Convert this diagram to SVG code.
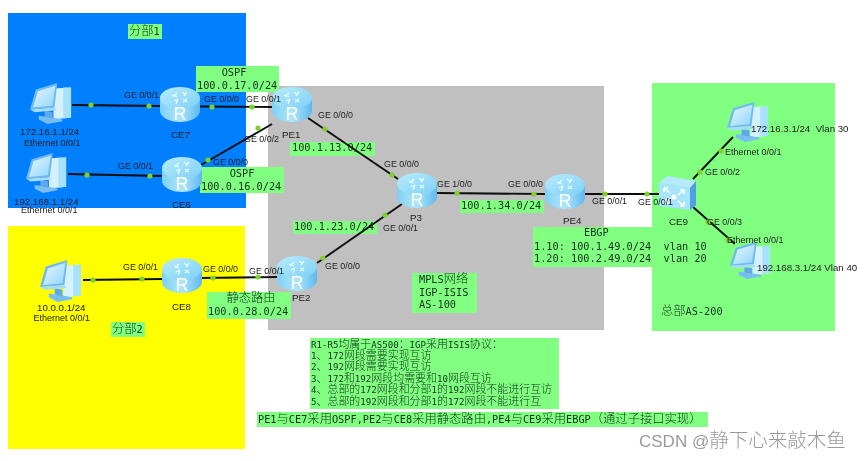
<svg xmlns="http://www.w3.org/2000/svg" xmlns:xlink="http://www.w3.org/1999/xlink" width="865" height="461" viewBox="0 0 865 461">
<style>
svg>g{filter:url(#soft)}
text{font-family:"Liberation Sans",Arial,sans-serif;fill:#1c1c1c}
.ge{font-size:8.9px}
.ip{font-size:9.7px}
.eth{font-size:9px}
.nm{font-size:9.8px}
.m{font-family:"DejaVu Sans Mono","Liberation Mono","Noto Sans CJK SC",monospace;font-size:10.25px;fill:#10301a}
.r{font-family:"DejaVu Sans Mono","Liberation Mono","Noto Sans CJK SC",monospace;font-size:9.1px;fill:#10301a}
.c{font-family:"Noto Sans CJK SC",sans-serif;font-weight:300}
.r .c{font-size:10.96px}
.m .c{font-size:12.3px}
.g{fill:#80ff80}
.ln{stroke:#0a0a0a;stroke-width:1.9;fill:none}
.dot{fill:#7fd12e}
.wm{font-size:17px;fill:#9a9a9a}
</style>
<defs>
<filter id="soft" x="0" y="0" width="100%" height="100%" filterUnits="objectBoundingBox"><feGaussianBlur stdDeviation="0.35"/></filter>
<linearGradient id="rb" x1="0" x2="1" y1="0" y2="0"><stop offset="0" stop-color="#7fd0f5"/><stop offset=".5" stop-color="#aee6fb"/><stop offset="1" stop-color="#5fb8ee"/></linearGradient>
<linearGradient id="rt" x1="0" x2="1" y1="0" y2="1"><stop offset="0" stop-color="#b8ecfc"/><stop offset="1" stop-color="#7dd0f6"/></linearGradient>
<linearGradient id="scr" x1="0" x2="1" y1="0" y2="1"><stop offset="0" stop-color="#e8f8ff"/><stop offset="1" stop-color="#8fd6fb"/></linearGradient>
<symbol id="router" viewBox="0 0 40 35" overflow="visible">
<path d="M0 11V24C0 30 9 35 20 35S40 30 40 24V11Z" fill="url(#rb)"/>
<ellipse cx="20" cy="11" rx="20" ry="11" fill="url(#rt)"/>
<path d="M12 8l5 2M17 6l-4 4M22 5l4 3M27 5l-3 4M14 14l4-2M16 17l2-5M23 12l4 3M27 12l-4 3" stroke="#eaf9ff" stroke-width="1.3" fill="none"/>
<text x="20" y="33" text-anchor="middle" style="font-size:18px;fill:#fff">R</text>
</symbol>
<symbol id="pc" viewBox="0 0 44 45" preserveAspectRatio="none" overflow="visible">
<path d="M24 6L42 5V38L24 40Z" fill="#d4f2fd"/>
<path d="M34 5L42 5V38L34 39Z" fill="#a8e2fa"/>
<path d="M23 38L9 36V40L18 45L33 42V40Z" fill="#79bdf2"/>
<path d="M15 30L23 32V39L15 37Z" fill="#5ea9ea"/>
<path d="M6 7L28 0L25 27L0 29Z" fill="#6fb9f0"/>
<path d="M8 9L26 3L23 25L3 27Z" fill="url(#scr)"/>
<path d="M0 29L25 27L27 30L5 32Z" fill="#a6dcfa"/>
</symbol>
<symbol id="sw" viewBox="0 0 37 34" overflow="visible">
<path d="M0 7L8 0L37 5L31 12Z" fill="#b5eafc"/>
<path d="M31 12L37 5V29L31 34Z" fill="#4f9fe8"/>
<path d="M0 7L31 12V34L0 30Z" fill="#a8e4fb"/>
<path d="M5 12l6 5M5 12l4 0M5 12l0 4M25 14l-6 5M25 14l-4 0M25 14l0 4M6 27l6-5M6 27l4 0M6 27l0-4M25 30l-6-5M25 30l-4 0M25 30l0-4" stroke="#fff" stroke-width="1.6" fill="none"/>
<circle cx="15" cy="21" r="2.6" fill="#fff"/>
</symbol>
</defs>

<g id="areas">
<rect x="8" y="13" width="238" height="195" fill="#0080ff"/>
<rect x="8" y="226" width="237" height="223" fill="#ffff00"/>
<rect x="268" y="86" width="336" height="244" fill="#c0c0c0"/>
<rect x="652" y="83" width="183" height="248" fill="#80ff80"/>
</g>

<g id="note-boxes">
<g id="note-branch1"><rect class="g" x="128" y="24" width="34" height="15"/><text class="m" x="129" y="35"><tspan class="c">分部</tspan>1</text></g>
<g id="note-branch2"><rect class="g" x="111" y="322" width="34" height="15"/><text class="m" x="112" y="333"><tspan class="c">分部</tspan>2</text></g>
<g id="note-ospf17"><rect class="g" x="196" y="66" width="83" height="26"/><text class="m" x="234" y="76" text-anchor="middle">OSPF</text><text class="m" x="197" y="89">100.0.17.0/24</text></g>
<g id="note-ospf16"><rect class="g" x="200" y="167" width="84" height="26"/><text class="m" x="242" y="177" text-anchor="middle">OSPF</text><text class="m" x="201" y="190">100.0.16.0/24</text></g>
<g id="note-static"><rect class="g" x="207" y="292" width="84" height="27"/><text class="m" x="251" y="302" text-anchor="middle"><tspan class="c">静态路由</tspan></text><text class="m" x="208" y="315">100.0.28.0/24</text></g>
<g id="note-13"><rect class="g" x="290" y="142" width="85" height="14"/><text class="m" x="292" y="151">100.1.13.0/24</text></g>
<g id="note-23"><rect class="g" x="293" y="221" width="84" height="13"/><text class="m" x="294" y="230">100.1.23.0/24</text></g>
<g id="note-34"><rect class="g" x="460" y="200" width="84" height="13"/><text class="m" x="461" y="209">100.1.34.0/24</text></g>
<g id="note-ebgp"><rect class="g" x="533" y="227" width="119" height="40"/><text class="m" x="584" y="236">EBGP</text><text class="m" x="534" y="250" xml:space="preserve">1.10: 100.1.49.0/24  vlan 10</text><text class="m" x="534" y="262" xml:space="preserve">1.20: 100.2.49.0/24  vlan 20</text></g>
<g id="note-mpls"><rect class="g" x="412" y="273" width="65" height="40"/><text class="m" x="419" y="283">MPLS<tspan class="c">网络</tspan></text><text class="m" x="419" y="296">IGP-ISIS</text><text class="m" x="419" y="308">AS-100</text></g>
<g id="note-hq"><text class="m" x="661" y="315"><tspan class="c">总部</tspan>AS-200</text></g>
<g id="note-rules"><rect class="g" x="310" y="338" width="249" height="71"/>
<text class="r" x="311" y="348">R1-R5<tspan class="c">均属于</tspan>AS500<tspan class="c">：</tspan>IGP<tspan class="c">采用</tspan>ISIS<tspan class="c">协议：</tspan></text>
<text class="r" x="311" y="359">1<tspan class="c">、</tspan>172<tspan class="c">网段需要实现互访</tspan></text>
<text class="r" x="311" y="370">2<tspan class="c">、</tspan>192<tspan class="c">网段需要实现互访</tspan></text>
<text class="r" x="311" y="382">3<tspan class="c">、</tspan>172<tspan class="c">和</tspan>192<tspan class="c">网段均需要和</tspan>10<tspan class="c">网段互访</tspan></text>
<text class="r" x="311" y="393">4<tspan class="c">、总部的</tspan>172<tspan class="c">网段和分部</tspan>1<tspan class="c">的</tspan>192<tspan class="c">网段不能进行互访</tspan></text>
<text class="r" x="311" y="405">5<tspan class="c">、总部的</tspan>192<tspan class="c">网段和分部</tspan>1<tspan class="c">的</tspan>172<tspan class="c">网段不能进行互</tspan></text>
</g>
<g id="note-summary"><rect class="g" x="257" y="412" width="451" height="15"/>
<text class="m" x="258" y="423">PE1<tspan class="c">与</tspan>CE7<tspan class="c">采用</tspan>OSPF,PE2<tspan class="c">与</tspan>CE8<tspan class="c">采用静态路由</tspan>,PE4<tspan class="c">与</tspan>CE9<tspan class="c">采用</tspan>EBGP<tspan class="c">（通过子接口实现）</tspan></text></g>
</g>

<g id="connectors">
<path class="ln" d="M72 105L160 106"/>
<path class="ln" d="M200 106.500L272 107"/>
<path class="ln" d="M272 124L201 165"/>
<path class="ln" d="M68 174L162 176"/>
<path class="ln" d="M83 280L162 279"/>
<path class="ln" d="M201 278L277 277"/>
<path class="ln" d="M308 118L398 179"/>
<path class="ln" d="M317 263L402 204"/>
<path class="ln" d="M437 193L545 194"/>
<path class="ln" d="M585 194L659 194"/>
<path class="ln" d="M693 179L733 137"/>
<path class="ln" d="M693 207L735 244"/>
<g class="dot">
<circle cx="91" cy="105" r="2.600"/><circle cx="149" cy="106" r="2.600"/>
<circle cx="212" cy="107" r="2.600"/><circle cx="252" cy="107" r="2.600"/>
<circle cx="258" cy="128" r="2.600"/><circle cx="208" cy="160" r="2.600"/>
<circle cx="87" cy="175" r="2.600"/><circle cx="150" cy="176" r="2.600"/>
<circle cx="93" cy="280" r="2.600"/><circle cx="142" cy="279" r="2.600"/>
<circle cx="213" cy="278" r="2.600"/><circle cx="258" cy="277" r="2.600"/>
<circle cx="325" cy="129" r="2.600"/><circle cx="392" cy="175" r="2.600"/>
<circle cx="323" cy="258" r="2.600"/><circle cx="385" cy="215" r="2.600"/>
<circle cx="457" cy="193" r="2.600"/><circle cx="534" cy="194" r="2.600"/>
<circle cx="605" cy="194" r="2.600"/><circle cx="647" cy="194" r="2.600"/>
<circle cx="700" cy="172" r="2.600"/><circle cx="721" cy="151" r="2.600"/>
<circle cx="708" cy="222" r="2.600"/><circle cx="728" cy="240" r="2.600"/>
</g>
</g>

<g id="pc1"><use xlink:href="#pc" href="#pc" x="30" y="83" width="43" height="41"/><text class="ip" x="20" y="135">172.16.1.1/24</text><text class="eth" x="24" y="146">Ethernet 0/0/1</text></g>
<g id="pc2"><use xlink:href="#pc" href="#pc" x="26" y="153" width="42" height="40"/><text class="ip" x="14" y="205">192.168.1.1/24</text><text class="eth" x="21" y="213">Ethernet 0/0/1</text></g>
<g id="pc3"><use xlink:href="#pc" href="#pc" x="40" y="260" width="43" height="42"/><text class="ip" x="37" y="311">10.0.0.1/24</text><text class="eth" x="33.500" y="321">Ethernet 0/0/1</text></g>
<g id="pc4"><use xlink:href="#pc" href="#pc" x="727" y="102" width="43" height="40"/><text class="ip" x="751" y="132" xml:space="preserve">172.16.3.1/24  Vlan 30</text><text class="eth" x="725" y="155">Ethernet 0/0/1</text></g>
<g id="pc5"><use xlink:href="#pc" href="#pc" x="730" y="242" width="42" height="37"/><text class="ip" x="757" y="271">192.168.3.1/24 Vlan 40</text><text class="eth" x="727" y="243">Ethernet 0/0/1</text></g>

<g id="ce7"><use xlink:href="#router" href="#router" x="160" y="87" width="40" height="35"/><text class="nm" x="171" y="138">CE7</text><text class="ge" x="124" y="98">GE 0/0/1</text><text class="ge" x="204" y="102">GE 0/0/0</text></g>
<g id="ce6"><use xlink:href="#router" href="#router" x="162" y="157" width="40" height="35"/><text class="nm" x="172" y="208">CE6</text><text class="ge" x="118" y="169">GE 0/0/1</text><text class="ge" x="213" y="165">GE 0/0/0</text></g>
<g id="ce8"><use xlink:href="#router" href="#router" x="162" y="258" width="40" height="35"/><text class="nm" x="172" y="310">CE8</text><text class="ge" x="123" y="270">GE 0/0/1</text><text class="ge" x="203" y="272">GE 0/0/0</text></g>
<g id="pe1"><use xlink:href="#router" href="#router" x="272" y="87" width="40" height="35"/><text class="nm" x="282" y="138">PE1</text><text class="ge" x="246" y="102">GE 0/0/1</text><text class="ge" x="244" y="142">GE 0/0/2</text><text class="ge" x="318" y="118">GE 0/0/0</text></g>
<g id="pe2"><use xlink:href="#router" href="#router" x="277" y="256" width="40" height="35"/><text class="nm" x="292" y="301">PE2</text><text class="ge" x="249" y="274">GE 0/0/1</text><text class="ge" x="325" y="269">GE 0/0/0</text></g>
<g id="p3"><use xlink:href="#router" href="#router" x="397" y="173" width="40" height="35"/><text class="nm" x="410" y="221">P3</text><text class="ge" x="384" y="167">GE 0/0/0</text><text class="ge" x="437" y="187">GE 1/0/0</text><text class="ge" x="383" y="231">GE 0/0/1</text></g>
<g id="pe4"><use xlink:href="#router" href="#router" x="545" y="174" width="40" height="35"/><text class="nm" x="563" y="224">PE4</text><text class="ge" x="508" y="187">GE 0/0/0</text><text class="ge" x="592" y="204">GE 0/0/1</text></g>
<g id="ce9"><use xlink:href="#sw" href="#sw" x="659" y="176" width="37" height="34"/><text class="nm" x="669" y="225">CE9</text><text class="ge" x="638" y="205">GE 0/0/1</text><text class="ge" x="705" y="175">GE 0/0/2</text><text class="ge" x="707" y="225">GE 0/0/3</text></g>

<g id="watermark"><text class="wm" x="639" y="447">CSDN @<tspan class="c" style="font-size:19.500px;fill:#9a9a9a">静下心来敲木鱼</tspan></text></g>
</svg>
